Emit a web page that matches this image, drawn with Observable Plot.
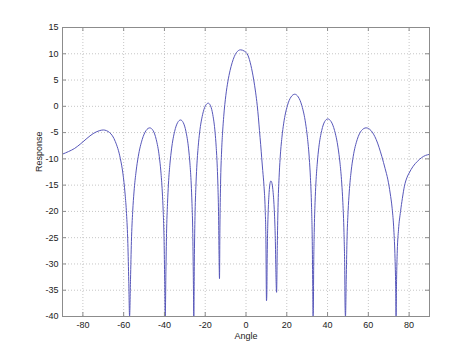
<!DOCTYPE html>
<html>
<head>
<meta charset="utf-8">
<script src="https://cdn.jsdelivr.net/npm/d3@7"></script>
<script src="https://cdn.jsdelivr.net/npm/@observablehq/plot@0.6"></script>
<style>
  html, body { margin: 0; padding: 0; background: #fff; }
  #chart { width: 474px; height: 355px; }
</style>
</head>
<body>
<div id="chart"></div>
<script>
// Angle (degrees) and response (dB)
const angles = [
  -90, -87, -84, -81, -78, -75, -72, -70, -66.9, -64.1, -61.6, -60.4, -59.3, -58.6, -57.95, -57.5, -57.1,
  -56.64, -56.2, -55.57, -54.93, -53.88, -52.86, -50.9, -49.0, -47.2, -45.6, -44.04, -42.52, -41.78, -41.05, -40.61, -40.17, -39.89, -39.6,
  -39.28, -38.97, -38.5, -38.04, -37.27, -36.51, -35.02, -33.55, -32.1, -30.77, -29.45, -28.15, -27.51, -26.87, -26.49, -26.1, -25.86, -25.6,
  -25.31, -25.02, -24.58, -24.15, -23.43, -22.72, -21.3, -19.9, -18.5, -17.39, -16.28, -15.18, -14.64, -14.09, -13.76, -13.44, -13.22, -13.0,
  -12.79, -12.48, -11.96, -11.44, -10.92, -9.88, -8.85, -7.82, -6.79, -4.74, -2.7, -0.8, 0.9, 2.4, 3.8, 4.7, 5.5, 6.1, 6.6, 7.2, 7.7, 8.2, 8.85, 9.4, 9.75, 10.05,
  10.22, 10.35, 10.48, 10.69, 10.91, 11.34, 11.77, 12.2, 12.76, 13.31, 13.87, 14.16, 14.44, 14.6, 15.0,
  15.35, 15.69, 16.22, 16.74, 17.62, 18.5, 20.28, 22.08, 23.9, 25.64, 27.41, 29.21, 30.12, 31.04, 31.6, 32.16, 32.53, 32.71, 32.9,
  33.04, 33.18, 33.46, 33.87, 34.29, 35.0, 35.7, 37.14, 38.6, 40.1, 41.74, 43.43, 45.16, 46.05, 46.95, 47.5, 48.05, 48.43, 48.61, 48.8,
  49.16, 49.52, 50.07, 50.64, 51.59, 52.56, 54.56, 56.67, 58.9, 61.28, 63.83, 66.66, 68.2, 69.6, 70.7, 71.7, 72.5, 73.1, 73.4, 73.6,
  73.85, 74.2, 74.8, 75.8, 76.7, 77.7, 79, 80, 82, 84, 86, 88, 90
];
const response = [
  -9.1, -8.6, -8.0, -7.1, -6.1, -5.2, -4.65, -4.5, -5.0, -6.7, -10.0, -12.7, -16.7, -20.4, -26.1, -33.3, -40,
  -32.9, -25.7, -20.0, -16.3, -12.3, -9.6, -6.3, -4.6, -4.1, -4.6, -6.3, -9.6, -12.3, -16.3, -20.0, -25.7, -32.9, -40,
  -31.4, -24.2, -18.5, -14.8, -10.8, -8.1, -4.8, -3.1, -2.6, -3.1, -4.8, -8.1, -10.8, -14.8, -18.5, -24.2, -31.4, -40,
  -28.2, -21.0, -15.3, -11.6, -7.6, -4.9, -1.6, 0.1, 0.6, 0.1, -1.6, -4.9, -7.6, -11.6, -15.3, -21.0, -28.2, -32.8,
  -23.0, -14.9, -8.5, -4.7, -1.9, 2.1, 4.8, 6.8, 8.3, 10.2, 10.75, 10.5, 9.75, 7.8, 5.0, 2.7, 0.2, -2.2, -4.6, -7.3, -9.8, -12.2, -15.3, -19.5, -25.0, -37,
  -35.8, -30.1, -26.4, -22.4, -19.7, -16.4, -14.7, -14.2, -14.7, -16.4, -19.7, -22.4, -26.4, -30.1, -35.4,
  -26.5, -19.3, -13.6, -9.9, -5.9, -3.2, 0.1, 1.78, 2.3, 1.78, 0.1, -3.2, -5.9, -9.9, -13.6, -19.3, -26.5, -33.8, -40,
  -38.5, -31.2, -24.0, -18.3, -14.6, -10.6, -7.9, -4.6, -2.9, -2.4, -2.9, -4.6, -7.9, -10.6, -14.6, -18.3, -24.0, -31.2, -38.5, -40,
  -32.9, -25.7, -20.0, -16.3, -12.3, -9.6, -6.3, -4.6, -4.1, -4.6, -6.3, -9.6, -11.8, -14.0, -16.5, -19.5, -23.5, -29, -34, -40,
  -33, -27.5, -23.5, -20.0, -17.5, -15.2, -13.5, -12.7, -11.4, -10.5, -9.8, -9.35, -9.15
];
const xTicks = [-80, -60, -40, -20, 0, 20, 40, 60, 80];
const yTicks = [-40, -35, -30, -25, -20, -15, -10, -5, 0, 5, 10, 15];
const xLabel = "Angle";
const yLabel = "Response";

const data = angles.map((a, i) => ({angle: a, value: response[i]}));

const W = 474, H = 355, mL = 62, mR = 45, mT = 27, mB = 39;
const innerW = W - mL - mR, innerH = H - mT - mB;
const tickLen = 4;
const boxColor = "#8c8c8c";
const fmt = d => String(d);

const chart = Plot.plot({
  width: W, height: H,
  marginLeft: mL, marginRight: mR, marginTop: mT, marginBottom: mB,
  style: {fontFamily: "'Liberation Sans', Arial, Helvetica, sans-serif", fontSize: "9px", background: "#fff", color: "#222"},
  x: {domain: [-90, 90]},
  y: {domain: [-40, 15]},
  marks: [
    Plot.gridX(xTicks, {stroke: "#c6c6c6", strokeOpacity: 1, strokeDasharray: "1,2"}),
    Plot.gridY(yTicks, {stroke: "#c6c6c6", strokeOpacity: 1, strokeDasharray: "1,2"}),
    Plot.line(data, {x: "angle", y: "value", stroke: "#5757ba", strokeWidth: 1, curve: "monotone-x", clip: true}),
    Plot.frame({stroke: boxColor, strokeWidth: 1}),
    // inward ticks on all four sides
    Plot.ruleX(xTicks, {x: d => d, stroke: boxColor, insetTop: innerH - tickLen}),
    Plot.ruleX(xTicks, {x: d => d, stroke: boxColor, insetBottom: innerH - tickLen}),
    Plot.ruleY(yTicks, {y: d => d, stroke: boxColor, insetRight: innerW - tickLen}),
    Plot.ruleY(yTicks, {y: d => d, stroke: boxColor, insetLeft: innerW - tickLen}),
    Plot.axisX(xTicks, {tickSize: 0, tickPadding: 5, tickFormat: fmt, label: null, fill: "#222"}),
    Plot.axisY(yTicks, {tickSize: 0, tickPadding: 4, tickFormat: fmt, label: null, fill: "#222"}),
    Plot.text([xLabel], {frameAnchor: "bottom", dy: 20, lineAnchor: "middle", text: d => d, fill: "#222"}),
    Plot.text([yLabel], {frameAnchor: "left", dx: -23, rotate: -90, lineAnchor: "middle", text: d => d, fill: "#222"})
  ]
});
document.getElementById("chart").appendChild(chart);
</script>
</body>
</html>
